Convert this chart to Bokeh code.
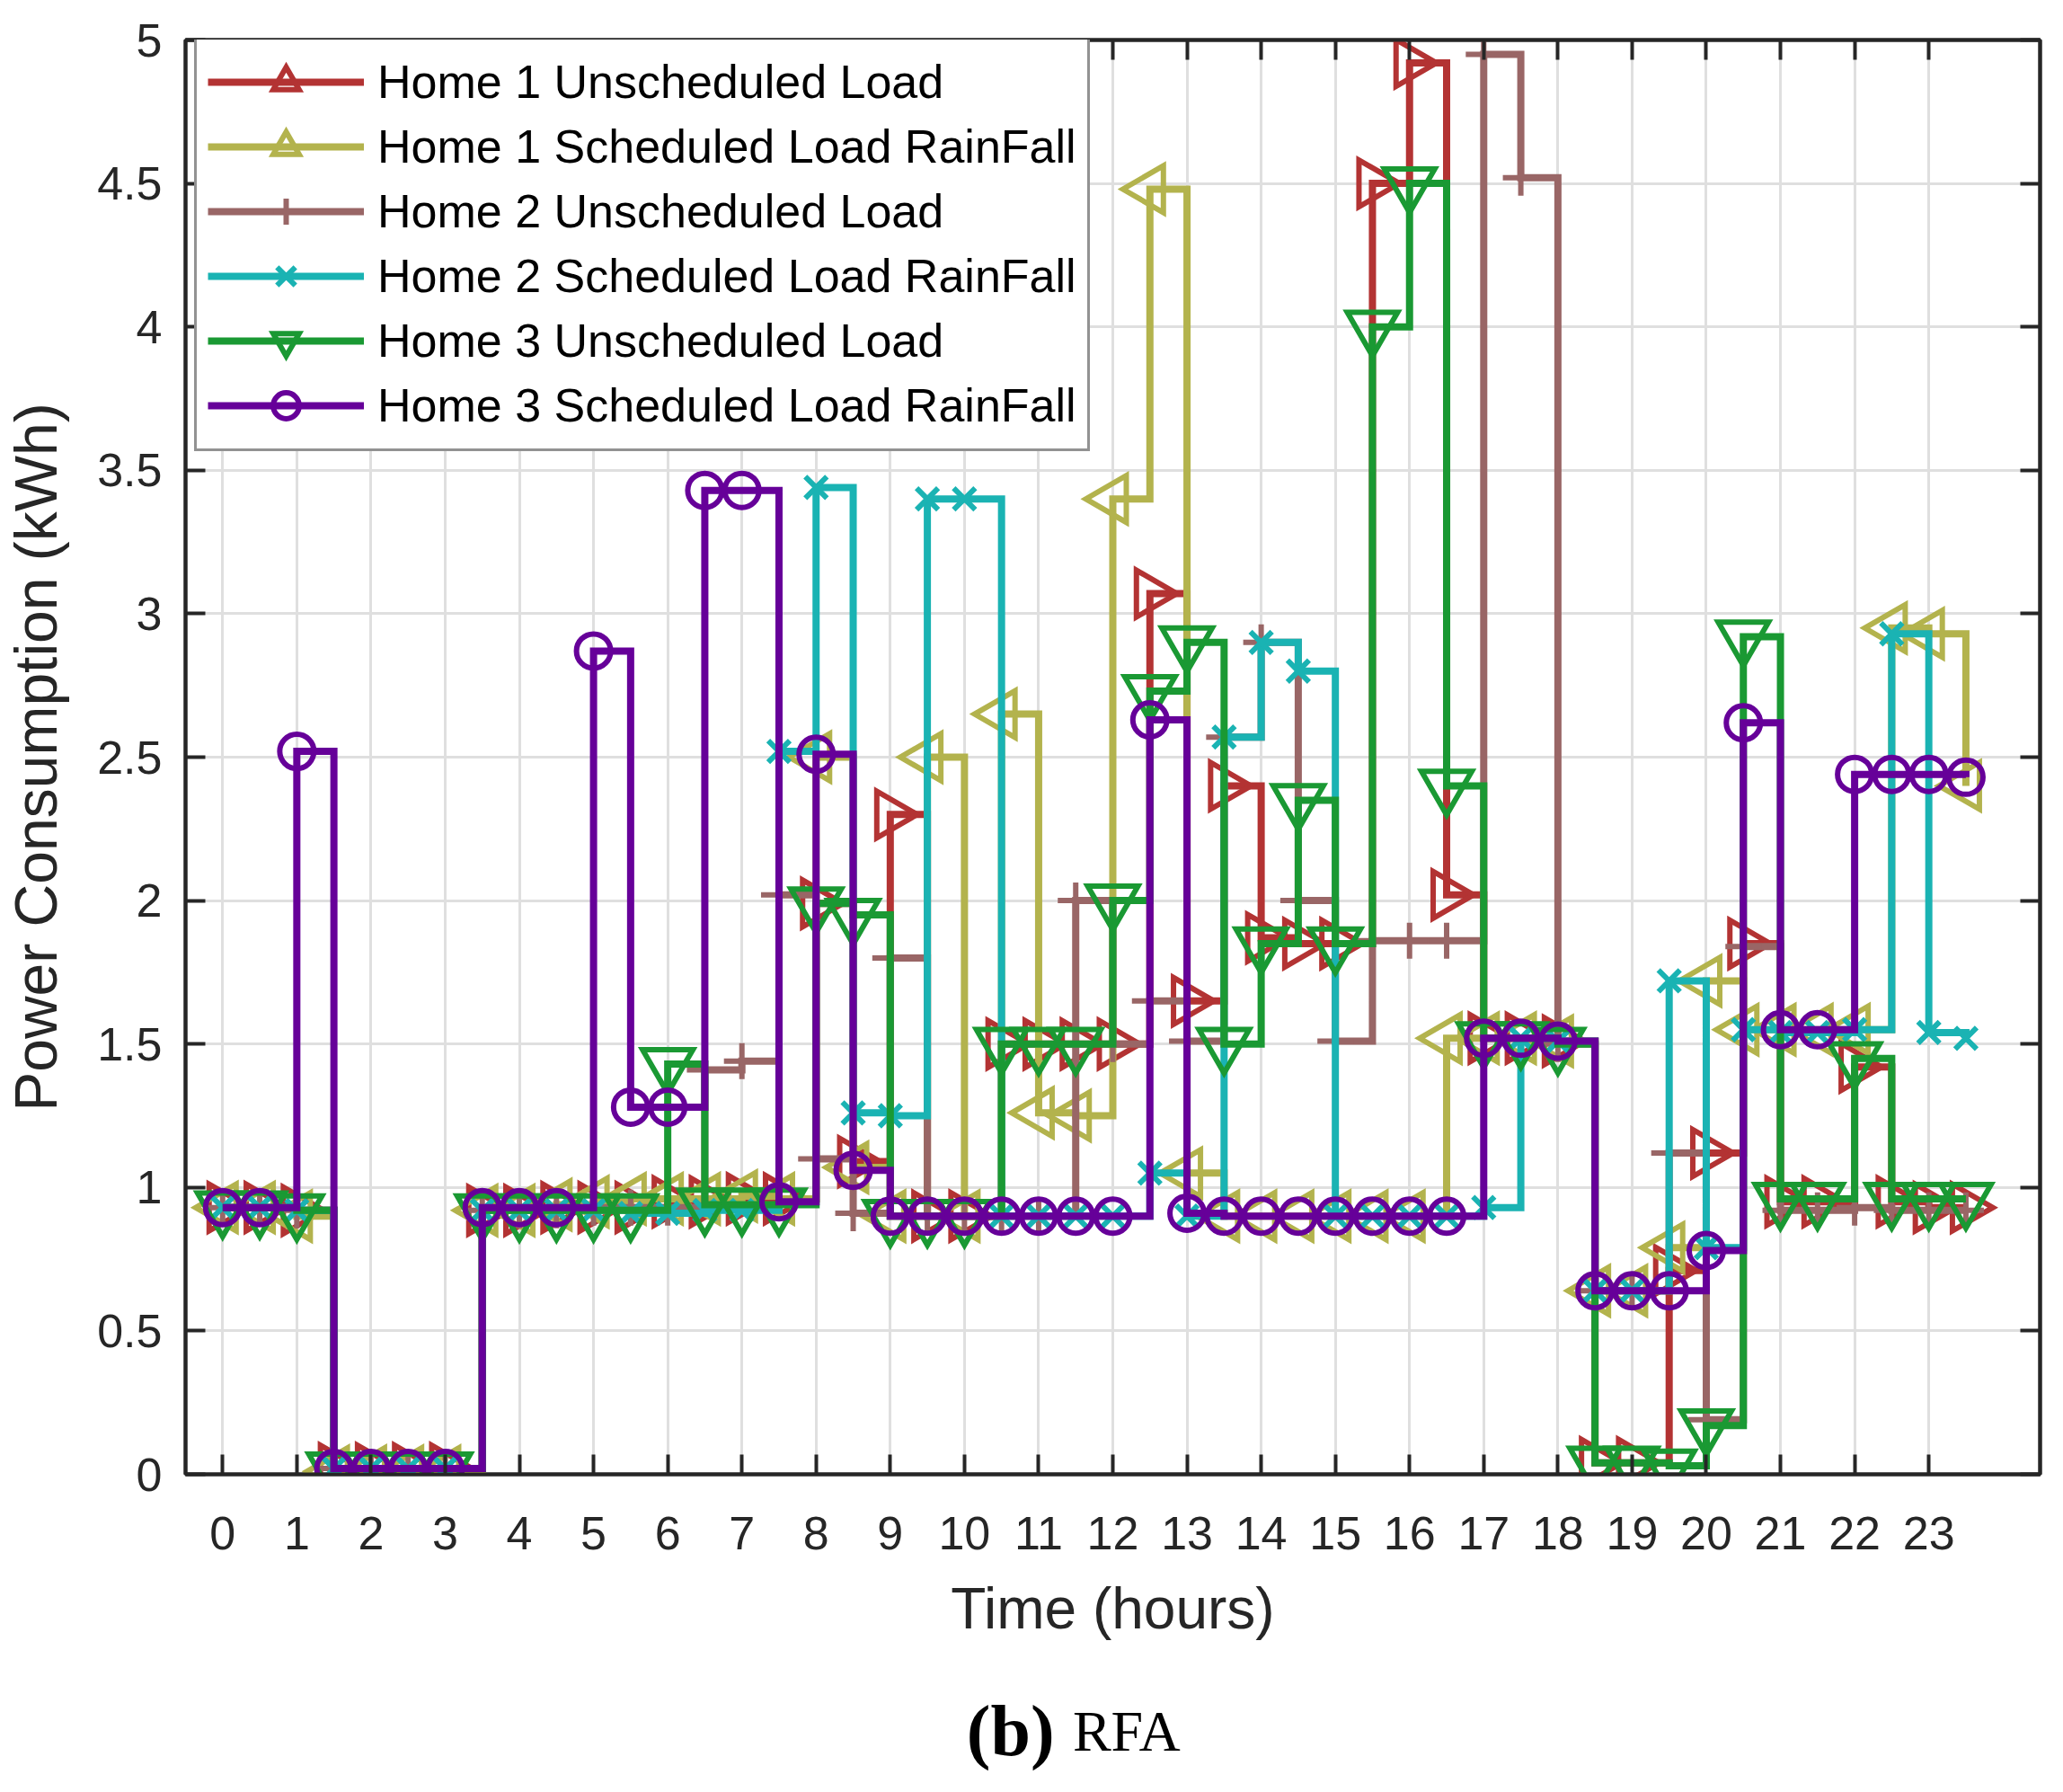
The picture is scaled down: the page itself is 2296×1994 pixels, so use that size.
import math
from bokeh.plotting import figure
from bokeh.layouts import column
from bokeh.models import FixedTicker, LinearAxis, Legend, LegendItem, Label, Range1d
from bokeh.embed import file_html
from bokeh.resources import INLINE

hours = [0, 0.5, 1, 1.5, 2, 2.5, 3, 3.5, 4, 4.5, 5, 5.5, 6, 6.5, 7, 7.5,
         8, 8.5, 9, 9.5, 10, 10.5, 11, 11.5, 12, 12.5, 13, 13.5, 14, 14.5, 15, 15.5,
         16, 16.5, 17, 17.5, 18, 18.5, 19, 19.5, 20, 20.5, 21, 21.5, 22, 22.5, 23, 23.5]

home1_unscheduled = [0.93, 0.93, 0.92, 0.02, 0.02, 0.02, 0.02, 0.92, 0.92, 0.93, 0.93, 0.93, 0.95, 0.95, 0.96, 0.96,
                     1.99, 1.09, 2.30, 0.90, 0.90, 1.50, 1.50, 1.50, 1.50, 3.07, 1.65, 2.40, 1.87, 1.85, 1.85, 4.50,
                     4.92, 2.02, 1.52, 1.52, 1.51, 0.04, 0.04, 0.71, 1.12, 1.85, 0.95, 0.95, 1.42, 0.95, 0.93, 0.93]

home1_scheduled = [0.93, 0.93, 0.90, 0.01, 0.01, 0.01, 0.01, 0.92, 0.92, 0.94, 0.95, 0.96, 0.96, 0.96, 0.97, 0.96,
                   2.50, 1.07, 0.90, 2.50, 0.90, 2.65, 1.26, 1.25, 3.40, 4.48, 1.05, 0.90, 0.90, 0.90, 0.90, 0.90,
                   0.90, 1.52, 1.52, 1.52, 1.51, 0.64, 0.64, 0.79, 1.72, 1.55, 1.55, 1.55, 1.55, 2.95, 2.93, 2.40]

home2_unscheduled = [0.93, 0.93, 0.92, 0.02, 0.02, 0.02, 0.02, 0.92, 0.92, 0.92, 0.93, 0.93, 0.93, 1.41, 1.44, 2.02,
                     1.10, 0.91, 1.80, 0.90, 0.90, 0.90, 0.90, 2.00, 1.50, 1.65, 1.51, 2.57, 2.90, 2.00, 1.51, 1.86,
                     1.86, 1.86, 4.95, 4.52, 1.50, 0.64, 0.64, 1.12, 0.19, 1.84, 0.92, 0.92, 0.93, 0.92, 0.92, 0.92]

home2_scheduled = [0.93, 0.93, 0.92, 0.02, 0.02, 0.02, 0.02, 0.92, 0.92, 0.92, 0.92, 0.91, 0.91, 0.92, 0.92, 2.52,
                   3.44, 1.26, 1.25, 3.40, 3.40, 0.90, 0.90, 0.90, 0.90, 1.05, 0.90, 2.57, 2.90, 2.80, 0.90, 0.90,
                   0.90, 0.90, 0.93, 1.52, 1.51, 0.64, 0.64, 1.72, 0.79, 1.55, 1.54, 1.54, 1.55, 2.93, 1.54, 1.52]

home3_unscheduled = [0.93, 0.93, 0.92, 0.02, 0.02, 0.02, 0.02, 0.92, 0.92, 0.92, 0.92, 0.92, 1.43, 0.94, 0.94, 0.94,
                     1.99, 1.95, 0.90, 0.90, 0.90, 1.50, 1.50, 1.50, 2.00, 2.73, 2.90, 1.50, 1.85, 2.35, 1.85, 4.00,
                     4.50, 2.40, 1.52, 1.52, 1.50, 0.04, 0.04, 0.03, 0.17, 2.92, 0.96, 0.96, 1.45, 0.96, 0.96, 0.96]

home3_scheduled = [0.93, 0.93, 2.52, 0.02, 0.02, 0.02, 0.02, 0.93, 0.93, 0.93, 2.87, 1.28, 1.28, 3.43, 3.43, 0.95,
                   2.51, 1.06, 0.90, 0.90, 0.90, 0.90, 0.90, 0.90, 0.90, 2.63, 0.91, 0.90, 0.90, 0.90, 0.90, 0.90,
                   0.90, 0.90, 1.52, 1.52, 1.51, 0.64, 0.64, 0.64, 0.78, 2.62, 1.55, 1.55, 2.44, 2.44, 2.44, 2.43]

series_names = ["Home 1 Unscheduled Load", "Home 1 Scheduled Load RainFall",
                "Home 2 Unscheduled Load", "Home 2 Scheduled Load RainFall",
                "Home 3 Unscheduled Load", "Home 3 Scheduled Load RainFall"]
series_values = [home1_unscheduled, home1_scheduled, home2_unscheduled,
                 home2_scheduled, home3_unscheduled, home3_scheduled]
series_colors = ["#B33333", "#B3B34D", "#996666", "#1AB3B3", "#1A9933", "#660099"]
series_markers = ["triangle", "triangle", "cross", "x", "inverted_triangle", "circle"]
series_angles = [-math.pi / 2, math.pi / 2, 0, 0, 0, 0]
series_sizes = [52, 52, 40, 34, 56, 38]

x_ticks = list(range(24))
y_ticks = [0, 0.5, 1, 1.5, 2, 2.5, 3, 3.5, 4, 4.5, 5]
y_tick_labels = ["0", "0.5", "1", "1.5", "2", "2.5", "3", "3.5", "4", "4.5", "5"]

caption_tag = "(b)"
caption_text = "RFA"

AX = "#262626"
FONT = "Liberation Sans"

p = figure(width=2288, height=1860, x_range=Range1d(-0.5, 24.5), y_range=Range1d(0, 5),
           output_backend="svg", toolbar_location=None,
           min_border_left=205, min_border_right=18, min_border_top=44, min_border_bottom=220)
p.background_fill_color = "white"
p.border_fill_color = "white"
p.outline_line_color = AX
p.outline_line_width = 4

def style_axis(ax, title_size):
    ax.major_tick_in = 22
    ax.major_tick_out = 0
    ax.minor_tick_in = 0
    ax.minor_tick_out = 0
    ax.major_tick_line_color = AX
    ax.major_tick_line_width = 4
    ax.axis_line_color = AX
    ax.axis_line_width = 4
    ax.major_label_text_font = FONT
    ax.major_label_text_font_size = "52px"
    ax.major_label_text_color = AX
    ax.axis_label_text_font = FONT
    ax.axis_label_text_font_size = title_size
    ax.axis_label_text_font_style = "normal"
    ax.axis_label_text_color = AX

xa = p.xaxis[0]
xa.ticker = FixedTicker(ticks=x_ticks)
style_axis(xa, "64px")
xa.major_label_standoff = 47
xa.axis_label = "Time (hours)"
xa.axis_label_standoff = 27

ya = p.yaxis[0]
ya.ticker = FixedTicker(ticks=y_ticks)
style_axis(ya, "66px")
ya.major_label_overrides = {t: s for t, s in zip(y_ticks, y_tick_labels)}
ya.major_label_standoff = 26
ya.axis_label = "Power Consumption (kWh)"
ya.axis_label_standoff = 28

top_ax = LinearAxis(ticker=FixedTicker(ticks=x_ticks))
style_axis(top_ax, "64px")
top_ax.major_label_overrides = {t: "" for t in x_ticks}
top_ax.major_label_standoff = 0
p.add_layout(top_ax, "above")

right_ax = LinearAxis(ticker=FixedTicker(ticks=y_ticks))
style_axis(right_ax, "64px")
right_ax.major_label_overrides = {t: "" for t in y_ticks}
right_ax.major_label_standoff = 0
p.add_layout(right_ax, "right")

p.xgrid.ticker = FixedTicker(ticks=x_ticks)
p.ygrid.ticker = FixedTicker(ticks=y_ticks)
for g in (p.xgrid[0], p.ygrid[0]):
    g.grid_line_color = "#DFDFDF"
    g.grid_line_width = 3

items = []
for name, vals, color, marker, angle, size in zip(series_names, series_values, series_colors,
                                                   series_markers, series_angles, series_sizes):
    s = p.step(hours, vals, mode="after", line_color=color, line_width=8, line_join="miter")
    m = p.scatter(hours, vals, marker=marker, size=size, angle=angle, line_color=color,
                  fill_color=None, line_width=6, line_join="miter")
    items.append(LegendItem(label=name, renderers=[s, m]))

legend = Legend(items=items, location=(10, 1138), margin=0,
                label_text_font=FONT, label_text_font_size="52px", label_text_color="black",
                glyph_width=174, glyph_height=72, label_height=72, spacing=0, padding=12,
                label_standoff=15, border_line_color=AX, border_line_width=3,
                background_fill_color="white", background_fill_alpha=1.0)
p.add_layout(legend)

# caption strip below the chart, sharing the same horizontal mapping
cap = figure(width=2288, height=126, x_range=Range1d(-0.5, 24.5), y_range=Range1d(0, 1),
             output_backend="svg", toolbar_location=None, x_axis_type=None, y_axis_type=None,
             min_border_left=205, min_border_right=18, min_border_top=0, min_border_bottom=0)
cap.background_fill_color = "white"
cap.border_fill_color = "white"
cap.outline_line_color = None
cap.xgrid.visible = False
cap.ygrid.visible = False

cap_b = Label(x=10.03, y=0.48, text=caption_tag,
              text_font="Liberation Serif", text_font_style="bold", text_font_size="80px",
              text_baseline="alphabetic", text_color="black")
cap_r = Label(x=11.46, y=0.48, text=caption_text,
              text_font="Liberation Serif", text_font_size="64px",
              text_baseline="alphabetic", text_color="black")
cap.add_layout(cap_b)
cap.add_layout(cap_r)

layout = column(p, cap, spacing=0)
open("out.html", "w").write(file_html(layout, INLINE))
